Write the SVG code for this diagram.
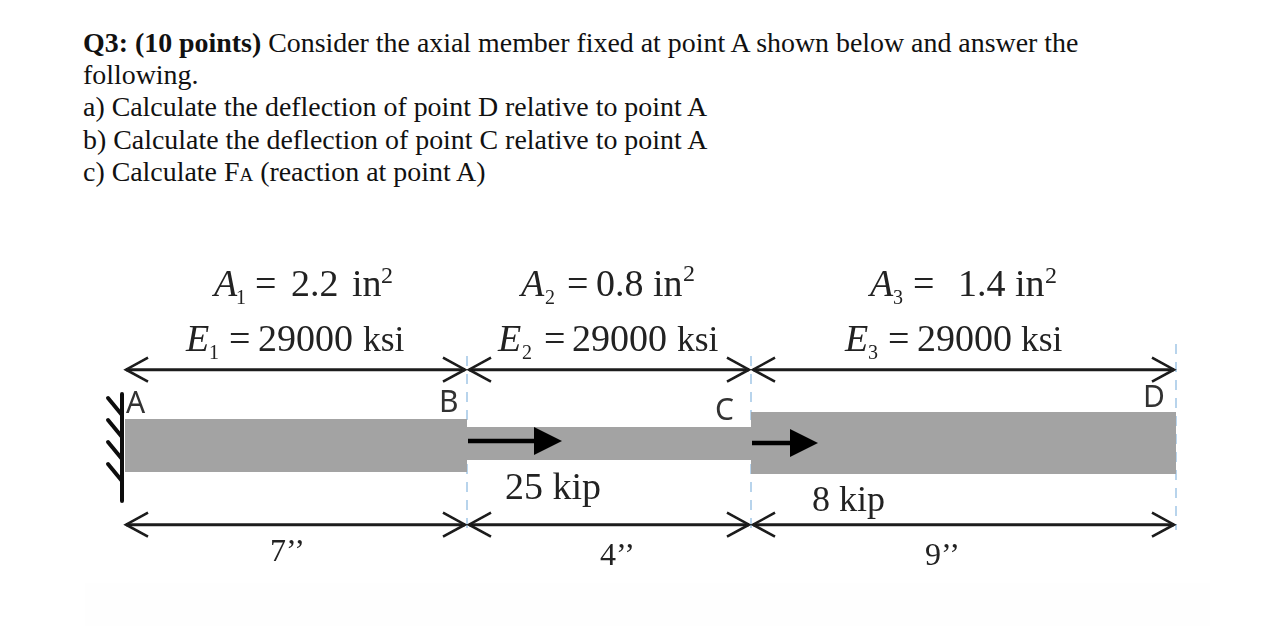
<svg xmlns="http://www.w3.org/2000/svg" width="1284" height="626" viewBox="0 0 1284 626">
<defs>
<filter id="soft" x="-5%" y="-5%" width="110%" height="110%"><feGaussianBlur stdDeviation="0.6"/></filter>
<marker id="open" viewBox="0 0 30 30" refX="25" refY="15" markerWidth="30" markerHeight="30" markerUnits="userSpaceOnUse" orient="auto-start-reverse"><path d="M3 3 L25 15 L3 27" fill="none" stroke="#1a1a1a" stroke-width="2.6"/></marker>
<marker id="solid" viewBox="0 0 30 30" refX="15" refY="15" markerWidth="30" markerHeight="30" markerUnits="userSpaceOnUse" orient="auto"><path d="M1 1 L29 15 L1 29 Z" fill="#000"/></marker>
</defs>
<style>
text{font-family:"Liberation Serif","Times New Roman",serif;fill:#111}
.q{font-size:27.9px}
.d{font-size:38px;fill:#222}
.l{font-size:36px;fill:#222}
.dim{font-size:32px;fill:#222}
.s{font-size:20px}
.u{font-size:24px}
.k{font-size:35.500px}
.i{font-style:italic}
.pt{font-family:"Noto Sans","Open Sans",sans-serif;font-size:30px;fill:#333}
.dash{stroke:#b8d4ec;stroke-width:2;stroke-dasharray:10 8;fill:none}
.bar{fill:#a3a3a3}
.dimline{stroke:#1a1a1a;stroke-width:3;fill:none;marker-start:url(#open);marker-end:url(#open)}
.force{stroke:#000;stroke-width:4.5;fill:none;marker-end:url(#solid)}
.wall{stroke:#111;stroke-width:4;fill:none;stroke-linecap:round}
</style>
<rect width="1284" height="626" fill="#fff"/>
<rect x="85" y="583" width="1125" height="43" fill="#fefefe"/>
<g id="question">
<text class="q" x="83" y="52"><tspan font-weight="bold">Q3: (10 points)</tspan> Consider the axial member fixed at point A shown below and answer the</text>
<text class="q" x="83" y="84">following.</text>
<text class="q" x="83" y="116">a) Calculate the deflection of point D relative to point A</text>
<text class="q" x="83" y="149">b) Calculate the deflection of point C relative to point A</text>
<text class="q" x="83" y="181">c) Calculate F<tspan font-size="19">A</tspan> (reaction at point A)</text>
</g>
<g filter="url(#soft)">
<g id="guides">
<path class="dash" d="M467 356V530"/>
<path class="dash" d="M751 356V530"/>
<path class="dash" d="M1176 344V530"/>
</g>
<g id="segment-AB"><rect class="bar" x="125" y="419" width="342" height="53"/></g>
<g id="segment-BC"><rect class="bar" x="467" y="427" width="284" height="33"/></g>
<g id="segment-CD"><rect class="bar" x="751" y="412" width="425" height="62"/></g>
<g id="support-A">
<path class="wall" d="M122 394V501M108 398L122 415M108 420L122 437M108 442L122 459M108 464L122 481"/>
</g>
<g id="connectors">
<path class="dimline" d="M126 369.700H465"/>
<path class="dimline" d="M469 369.700H749"/>
<path class="dimline" d="M753 369.700H1174"/>
<path class="dimline" d="M126 524.700H465"/>
<path class="dimline" d="M469 524.700H749"/>
<path class="dimline" d="M753 524.700H1174"/>
<path class="force" d="M468 441H548"/>
<path class="force" d="M752 443H804"/>
</g>
<g id="label-A"><text class="pt" x="126" y="413">A</text></g>
<g id="label-B"><text class="pt" x="439" y="412">B</text></g>
<g id="label-C"><text class="pt" x="715" y="420">C</text></g>
<g id="label-D"><text class="pt" x="1143" y="407">D</text></g>
<g id="props-1">
<text class="d" y="296"><tspan class="i" x="214">A</tspan><tspan class="s" x="236" y="304">1</tspan><tspan x="255" y="296">=</tspan><tspan x="291" y="296">2.2</tspan><tspan x="352" y="296">in</tspan><tspan class="u" x="381" y="283">2</tspan></text>
<text class="d" y="351"><tspan class="i" x="186">E</tspan><tspan class="s" x="209" y="359">1</tspan><tspan x="229" y="351">=</tspan><tspan x="258" y="351">29000</tspan><tspan class="k" x="363" y="351">ksi</tspan></text>
</g>
<g id="props-2">
<text class="d" y="296"><tspan class="i" x="521">A</tspan><tspan class="s" x="545" y="304">2</tspan><tspan x="567" y="296">=</tspan><tspan x="596" y="296">0.8</tspan><tspan x="653" y="296">in</tspan><tspan class="u" x="683" y="281">2</tspan></text>
<text class="d" y="351"><tspan class="i" x="498">E</tspan><tspan class="s" x="522" y="359">2</tspan><tspan x="544" y="351">=</tspan><tspan x="572" y="351">29000</tspan><tspan class="k" x="677" y="351">ksi</tspan></text>
</g>
<g id="props-3">
<text class="d" y="296"><tspan class="i" x="870">A</tspan><tspan class="s" x="893" y="304">3</tspan><tspan x="913" y="296">=</tspan><tspan x="958" y="296">1.4</tspan><tspan x="1015" y="296">in</tspan><tspan class="u" x="1045" y="283">2</tspan></text>
<text class="d" y="351"><tspan class="i" x="845">E</tspan><tspan class="s" x="868" y="359">3</tspan><tspan x="888" y="351">=</tspan><tspan x="917" y="351">29000</tspan><tspan class="k" x="1021" y="351">ksi</tspan></text>
</g>
<g id="load-25"><text class="d" x="505" y="499">25 kip</text></g>
<g id="load-8"><text class="l" x="812" y="511">8 kip</text></g>
<g id="len-7"><text class="dim" x="270" y="561">7’’</text></g>
<g id="len-4"><text class="dim" x="600" y="565">4’’</text></g>
<g id="len-9"><text class="dim" x="925" y="565">9’’</text></g>
</g>
</svg>
